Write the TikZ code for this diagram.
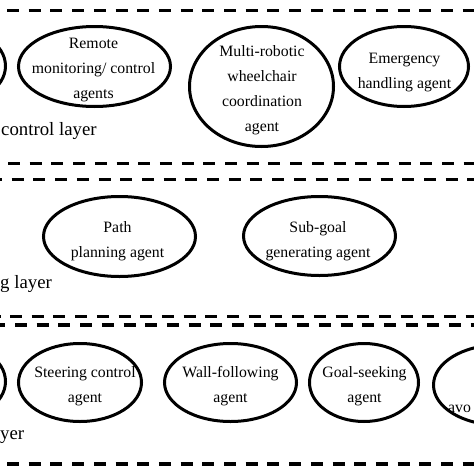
\documentclass[tikz,border=0pt]{standalone}
\usepackage{fontspec}
\setmainfont{Liberation Serif}
\usetikzlibrary{shapes.geometric}
\begin{document}
\begin{tikzpicture}[x=1pt,y=-1pt,
 agent/.style={draw, ellipse, line width=3pt, inner sep=0pt},
 atext/.style={anchor=north, align=center, inner sep=0pt, font=\fontsize{15.8}{25}\selectfont},
 layer/.style={anchor=base west, inner sep=0pt, font=\fontsize{18.8}{22}\selectfont},
 sep/.style={line width=3.2pt, dash pattern=on 12pt off 9.7pt}]
\useasboundingbox (0,0) rectangle (474,474);
\clip (0,0) rectangle (474,474);
% separators
\draw[sep, dash phase=14.7] (0,10.7) -- (474,10.7);
\draw[sep, dash phase=13.7] (0,163.3) -- (474,163.3);
\draw[sep, dash phase=10] (0,179.3) -- (474,179.3);
\draw[sep, dash phase=11.7] (0,316.7) -- (474,316.7);
\draw[sep, dash phase=6.7] (0,325) -- (474,325);
\draw[sep, dash phase=14.7] (0,464) -- (474,464);
% top layer
\node[agent, minimum width=120, minimum height=80] (lt) at (-54.5,66) {};
\node[agent, minimum width=152, minimum height=80] (rm) at (94.5,66.5) {};
\node[atext] (rmt) at (93.5,37) {\rule{0pt}{11pt}Remote\\monitoring/ control\\agents};
\node[agent, minimum width=144, minimum height=120] (mr) at (261.5,86.5) {};
\node[atext] (mrt) at (262,45) {\rule{0pt}{11pt}Multi-robotic\\wheelchair\\coordination\\agent};
\node[agent, minimum width=129, minimum height=80] (em) at (404,66.5) {};
\node[atext] (emt) at (404.5,52) {\rule{0pt}{11pt}Emergency\\handling agent};
\node[layer] (l1) at (1,135) {control layer};
% middle layer
\node[agent, minimum width=152, minimum height=80] (pp) at (119.5,236.5) {};
\node[atext] (ppt) at (117.5,221) {\rule{0pt}{11pt}Path\\planning agent};
\node[agent, minimum width=152, minimum height=79] (sg) at (319.5,236) {};
\node[atext] (sgt) at (318,221) {\rule{0pt}{11pt}Sub-goal\\generating agent};
\node[layer] (l2) at (0,288) {g layer};
% bottom layer
\node[agent, minimum width=120, minimum height=80] (lb) at (-54.5,381.5) {};
\node[agent, minimum width=123, minimum height=78] (sc) at (80,382.5) {};
\node[atext] (sct) at (85,366) {\rule{0pt}{11pt}Steering control\\agent};
\node[agent, minimum width=132, minimum height=78] (wf) at (230.5,382.5) {};
\node[atext] (wft) at (230.5,366) {\rule{0pt}{11pt}Wall-following\\agent};
\node[agent, minimum width=109, minimum height=78] (gs) at (364,382.5) {};
\node[atext] (gst) at (364.5,366) {\rule{0pt}{11pt}Goal-seeking\\agent};
\node[agent, minimum width=130, minimum height=80] (ob) at (498.5,385) {};
\node[anchor=base west, inner sep=0pt, font=\fontsize{15.8}{25}\selectfont] (obt) at (448,412) {avo};
\node[layer] (l3) at (0,439) {yer};
\end{tikzpicture}
\end{document}
